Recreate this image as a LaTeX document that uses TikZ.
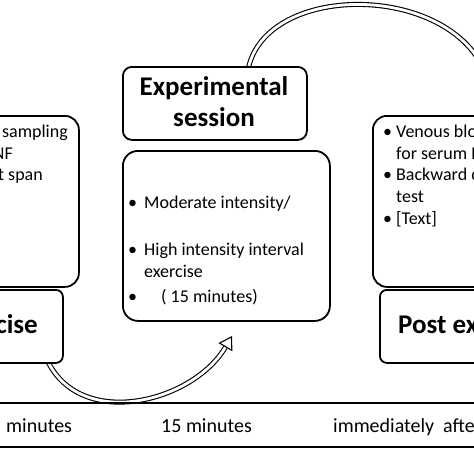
\documentclass[tikz,border=0pt]{standalone}
\usepackage{fontspec}
\setmainfont{Carlito}
\usetikzlibrary{arrows.meta}
\begin{document}
\begin{tikzpicture}[x=1pt,y=-1pt,
  box/.style={draw, line width=1.8pt, fill=white, rounded corners=#1, inner sep=0pt, anchor=north west},
  listtxt/.style={font=\fontsize{18}{22}\selectfont, inner sep=0pt, anchor=base west},
  bul/.style={font=\fontsize{18}{22}\selectfont, inner sep=0pt, anchor=base west},
  titletxt/.style={font=\fontsize{27}{31}\selectfont\bfseries, inner sep=0pt},
  timetxt/.style={font=\fontsize{20}{24}\selectfont, inner sep=0pt, anchor=base west},
  hollow/.style={draw, line width=1.1pt, double=white, double distance=2.8pt},
  rule/.style={line width=1.8pt}]
\useasboundingbox (0,0) rectangle (474,474);
\clip (0,0) rectangle (474,474);
\fill[white] (0,0) rectangle (474,474);

% connectors (drawn first, boxes cover their ends)
\coordinate (topstart) at (248,70);
\coordinate (topend) at (488,80);
\draw[hollow] (topstart) .. controls (265,-20) and (458,-18) .. (topend);
\coordinate (botstart) at (45,355);
\coordinate (botend) at (232,336);
\draw[hollow, -{Triangle[open, length=13pt, width=16pt]}] (botstart) .. controls (75,432) and (192,404) .. (botend);

% boxes
\node[box=14pt, minimum width=188pt, minimum height=171pt] (leftlist) at (-110,115) {};
\node[box=7pt, minimum width=172pt, minimum height=73pt] (lefttitle) at (-110,289) {};
\node[box=9pt, minimum width=184pt, minimum height=73pt] (exptitle) at (122,66) {};
\node[box=15pt, minimum width=207pt, minimum height=170pt] (centerlist) at (122,150) {};
\node[box=14pt, minimum width=188pt, minimum height=171pt] (rightlist) at (372,115) {};
\node[box=7pt, minimum width=181pt, minimum height=73pt] (righttitle) at (379,289) {};

% left list (cut by the frame)
\node[listtxt, anchor=base east] (l1) at (68,137) {sampling};
\node[listtxt, anchor=base east] (l2) at (13,159) {NF};
\node[listtxt, anchor=base east] (l3) at (43,180) {t span};

% left title
\node[titletxt, anchor=base east] (lt) at (38,333) {cise};

% experimental session
\node[titletxt, anchor=base] (e1) at (214,95) {Experimental};
\node[titletxt, anchor=base] (e2) at (214,126) {session};

% center list
\node[bul] (cb1) at (128,208) {•};
\node[listtxt] (c1) at (144,208) {Moderate intensity/};
\node[bul] (cb2) at (128,255) {•};
\node[listtxt] (c2) at (144,255) {High intensity interval};
\node[listtxt] (c3) at (144,277) {exercise};
\node[bul] (cb3) at (128,302) {•};
\node[listtxt] (c4) at (161,302) {( 15 minutes)};

% right list (cut by the frame)
\node[bul] (rb1) at (383,137) {•};
\node[listtxt] (r1) at (396,137) {Venous blo};
\node[listtxt] (r2) at (396,159) {for serum B};
\node[bul] (rb2) at (383,180) {•};
\node[listtxt] (r3) at (396,180) {Backward d};
\node[listtxt] (r4) at (396,202) {test};
\node[bul] (rb3) at (383,224) {•};
\node[listtxt] (r5) at (396,224) {[Text]};

% right title
\node[titletxt, anchor=base west] (rt) at (398,333) {Post ex};

% timeline
\coordinate (tl1) at (-5,403);
\coordinate (tr1) at (480,403);
\coordinate (tl2) at (-5,447);
\coordinate (tr2) at (480,447);
\draw[rule] (tl1) -- (tr1);
\draw[rule] (tl2) -- (tr2);
\node[timetxt] (t1) at (6,432) {minutes};
\node[timetxt] (t2) at (161,432) {15 minutes};
\node[timetxt] (t3) at (333,432) {immediately\hspace{9pt}afte};
\end{tikzpicture}
\end{document}
